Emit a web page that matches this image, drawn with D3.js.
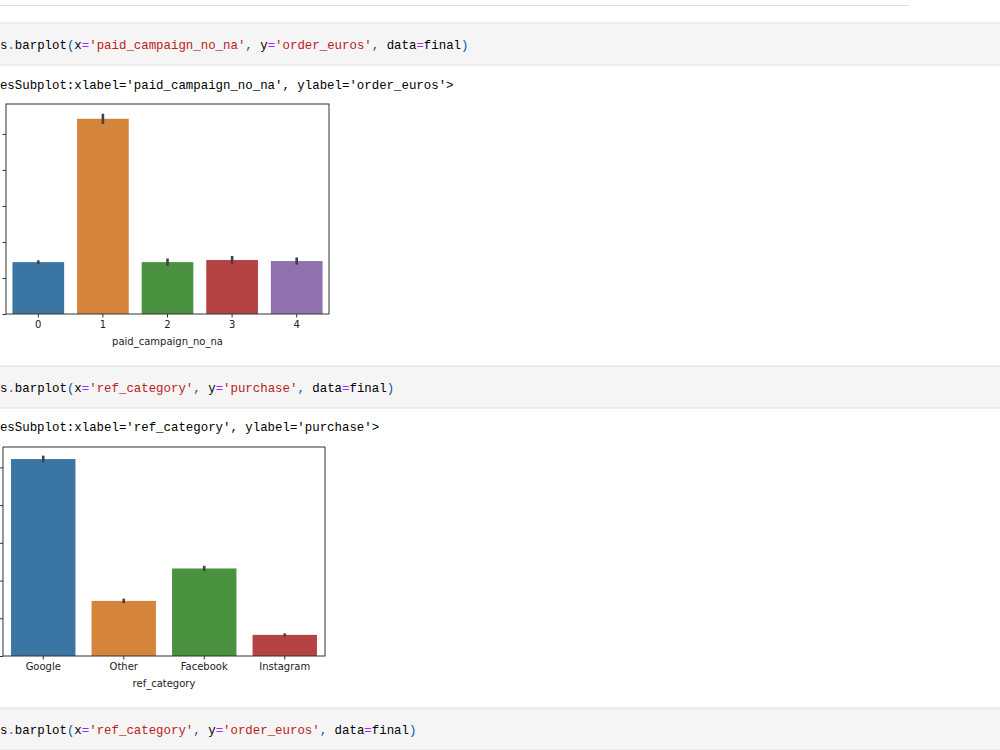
<!DOCTYPE html>
<html><head><meta charset="utf-8">
<script src="https://cdn.jsdelivr.net/npm/d3@7"></script>
<style>body{margin:0;background:#fff;overflow:hidden}svg{display:block}</style>
</head><body>
<script>
// chart 1: order_euros by paid_campaign_no_na
const campaigns = ['0', '1', '2', '3', '4'];
const campaignMeans = [1.44, 5.42, 1.44, 1.50, 1.47];
const campaignErr = [0.05, 0.14, 0.10, 0.11, 0.10];
// chart 2: purchase by ref_category
const refCats = ['Google', 'Other', 'Facebook', 'Instagram'];
const refMeans = [5.22, 1.46, 2.32, 0.56];
const refErr = [0.09, 0.06, 0.07, 0.04];
const palette = ['#3a75a4', '#d5843c', '#4a923f', '#b64343', '#8f71b0'];

const svg = d3.select('body').append('svg').attr('width', 1000).attr('height', 750);
const mono = "'Liberation Mono', 'DejaVu Sans Mono', monospace";
const cw = 7.46;

svg.append('line').attr('x1', 0).attr('x2', 910).attr('y1', 5.5).attr('y2', 5.5).attr('stroke', '#e0e0e0');

function codeCell(y0, parts) {
    svg.append('rect').attr('x', -2).attr('y', y0).attr('width', 1010).attr('height', 42)
        .attr('fill', '#f5f5f5').attr('stroke', '#e0e0e0');
    const t = svg.append('text').attr('x', -2 * cw).attr('y', y0 + 26)
        .attr('font-family', mono).attr('font-size', '12.4px').attr('xml:space', 'preserve');
    parts.forEach(([s, c]) => t.append('tspan').attr('fill', c).text(s));
}
const K = '#000', S = '#ba2121', P = '#aa22ff', B = '#0055aa';
function call(xs, ys) {
    return [['sns', K], ['.', P], ['barplot', K], ['(', B], ['x', K], ['=', P], [`'${xs}'`, S], [', ', B],
        ['y', K], ['=', P], [`'${ys}'`, S], [', ', B], ['data', K], ['=', P], ['final', K], [')', B]];
}
function outText(y, s) {
    svg.append('text').attr('x', -3 * cw).attr('y', y).attr('font-family', mono)
        .attr('font-size', '12.4px').attr('fill', '#000').attr('xml:space', 'preserve').text(s);
}

codeCell(23, call('paid_campaign_no_na', 'order_euros'));
outText(89, "<AxesSubplot:xlabel='paid_campaign_no_na', ylabel='order_euros'>");
codeCell(366, call('ref_category', 'purchase'));
outText(431, "<AxesSubplot:xlabel='ref_category', ylabel='purchase'>");
codeCell(708, call('ref_category', 'order_euros'));

function barChart(x0, x1, y0, y1, cats, vals, errs, ymax, xlabel) {
    const x = d3.scaleBand().domain(cats).range([x0, x1]).paddingInner(0.2).paddingOuter(0.1);
    const y = d3.scaleLinear().domain([0, ymax]).range([y1, y0]);
    const g = svg.append('g');
    g.selectAll('rect.bar').data(cats).join('rect').attr('class', 'bar')
        .attr('x', d => x(d)).attr('width', x.bandwidth())
        .attr('y', (d, i) => y(vals[i])).attr('height', (d, i) => y1 - y(vals[i]))
        .attr('fill', (d, i) => palette[i]);
    g.selectAll('line.err').data(cats).join('line').attr('class', 'err')
        .attr('x1', d => x(d) + x.bandwidth() / 2).attr('x2', d => x(d) + x.bandwidth() / 2)
        .attr('y1', (d, i) => y(vals[i] - errs[i])).attr('y2', (d, i) => y(vals[i] + errs[i]))
        .attr('stroke', '#424242').attr('stroke-width', 2.6);
    const xa = g.append('g').attr('transform', `translate(0,${y1})`)
        .call(d3.axisBottom(x).tickSize(3.5).tickPadding(3));
    const ya = g.append('g').attr('transform', `translate(${x0},0)`)
        .call(d3.axisLeft(y).ticks(5).tickSize(3.5).tickFormat(d3.format('d')));
    [xa, ya].forEach(a => {
        a.select('.domain').remove();
        a.selectAll('line').attr('stroke', '#333');
        a.selectAll('text').attr('font-family', 'DejaVu Sans, sans-serif').attr('font-size', '10px').attr('fill', '#222');
    });
    g.append('rect').attr('x', x0).attr('y', y0).attr('width', x1 - x0).attr('height', y1 - y0)
        .attr('fill', 'none').attr('stroke', '#333').attr('stroke-width', 1);
    g.append('text').attr('x', (x0 + x1) / 2).attr('y', y1 + 31).attr('text-anchor', 'middle')
        .attr('font-family', 'DejaVu Sans, sans-serif').attr('font-size', '10px').attr('fill', '#222').text(xlabel);
}

barChart(6, 329, 104, 314, campaigns, campaignMeans, campaignErr, 5.83, 'paid_campaign_no_na');
barChart(3, 325, 447, 656, refCats, refMeans, refErr, 5.54, 'ref_category');
</script>
</body></html>
